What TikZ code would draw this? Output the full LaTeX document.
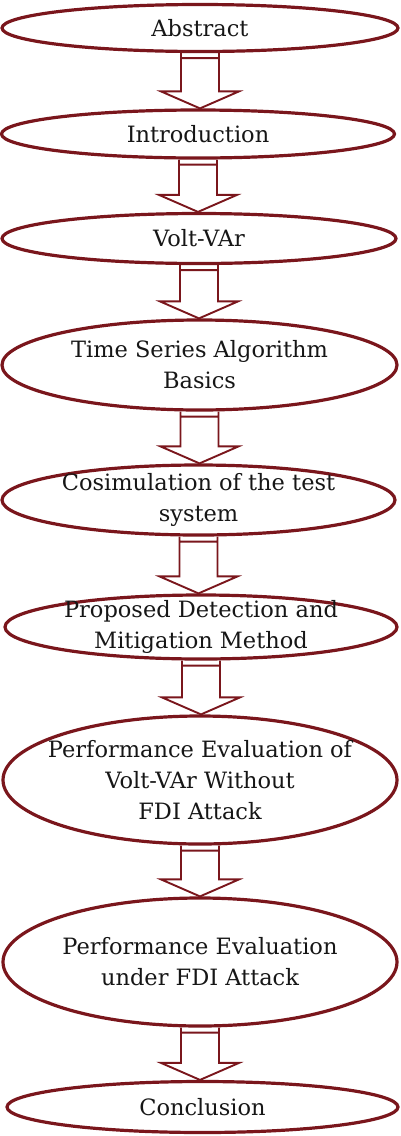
\documentclass[tikz,border=0pt]{standalone}
\usepackage{fontspec}
\setmainfont{DejaVu Serif}
\usetikzlibrary{shapes.geometric,calc}
\definecolor{maroon}{RGB}{122,22,28}
\definecolor{ink}{RGB}{22,22,22}
\newcommand\blockarrow[2]{%
  \draw[blk] let \p1=(#1.south), \p2=(#2.north) in
    ({\x1-19pt},\y1) -- ({\x1-19pt},{\y2+17pt}) -- ({\x1-39pt},{\y2+17pt}) -- (\x1,\y2)
    -- ({\x1+39pt},{\y2+17pt}) -- ({\x1+19pt},{\y2+17pt}) -- ({\x1+19pt},\y1)
    ({\x1-19pt},{\y1-5pt}) -- ({\x1+19pt},{\y1-5pt});}
\begin{document}
\begin{tikzpicture}[x=1pt,y=1pt,
  box/.style={ellipse,draw=maroon,line width=3.2pt,inner sep=0pt},
  lbl/.style={align=center,font=\fontsize{22.5}{31}\selectfont,text=ink,inner sep=0pt},
  blk/.style={draw=maroon,line width=1.9pt,line join=miter}]
\useasboundingbox (0,0) rectangle (400,-1136);
\node[box,minimum width=396pt,minimum height=47pt]  (e1) at (200,-28)   {};
\node[box,minimum width=393pt,minimum height=48pt]  (e2) at (198,-134)  {};
\node[box,minimum width=394pt,minimum height=50pt]  (e3) at (199,-238.5){};
\node[box,minimum width=395pt,minimum height=90pt]  (e4) at (199.5,-365){};
\node[box,minimum width=393pt,minimum height=70pt]  (e5) at (198.5,-500){};
\node[box,minimum width=392pt,minimum height=64pt]  (e6) at (201,-627)  {};
\node[box,minimum width=394pt,minimum height=128pt] (e7) at (200,-780)  {};
\node[box,minimum width=394pt,minimum height=128pt] (e8) at (200,-962)  {};
\node[box,minimum width=391pt,minimum height=51pt]  (e9) at (202.5,-1107){};
\node[lbl] (t1) at (e1.center) {Abstract};
\node[lbl] (t2) at (e2.center) {Introduction};
\node[lbl] (t3) at (e3.center) {Volt-VAr};
\node[lbl] (t4) at (e4.center) {Time Series Algorithm\\Basics};
\node[lbl] (t5) at (e5.center) {Cosimulation of the test\\system};
\node[lbl] (t6) at (e6.center) {Proposed Detection and\\Mitigation Method};
\node[lbl] (t7) at (e7.center) {Performance Evaluation of\\Volt-VAr Without\\FDI Attack};
\node[lbl] (t8) at (e8.center) {Performance Evaluation\\under FDI Attack};
\node[lbl] (t9) at (e9.center) {Conclusion};
\blockarrow{e1}{e2}
\blockarrow{e2}{e3}
\blockarrow{e3}{e4}
\blockarrow{e4}{e5}
\blockarrow{e5}{e6}
\blockarrow{e6}{e7}
\blockarrow{e7}{e8}
\blockarrow{e8}{e9}
\end{tikzpicture}
\end{document}
